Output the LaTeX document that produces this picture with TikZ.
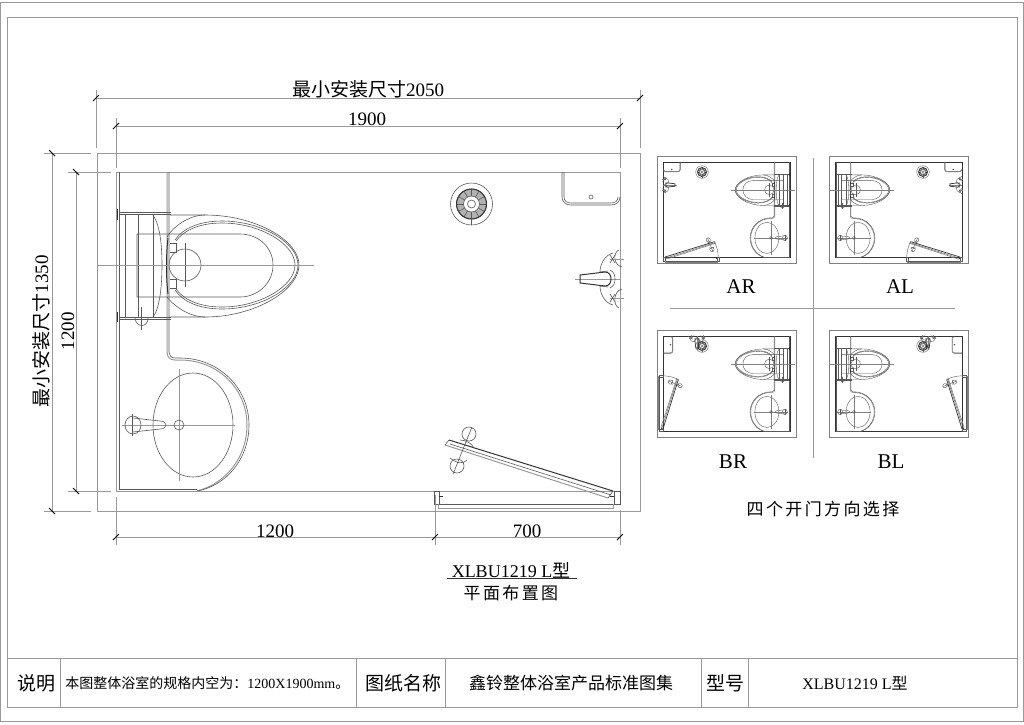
\documentclass[tikz,border=0pt]{standalone}
\usepackage{fontspec}
\setmainfont{Liberation Serif}
\newfontfamily\cjk{Noto Sans CJK SC}
\newfontfamily\cjkwide[LetterSpace=14]{Noto Sans CJK SC}

\tikzset{
    wall line/.style={line width=.5pt, draw=black!40},
    thin line/.style={line width=.3pt, draw=black!65},
    dark line/.style={line width=.5pt, draw=black!80},
    dim tick/.style={line width=.5pt, draw=black},
    dim text/.style={font=\fontsize{9.5}{11}\selectfont, inner sep=0pt},
    cell text/.style={font=\fontsize{9.5}{11}\cjk, inner sep=0pt},
    room text/.style={font=\fontsize{10.5}{13}\selectfont, inner sep=0pt}
}

\newcommand{\leftfix}{
    \draw[thin line] (119,172) -- (119,489) -- (197,489);
    \draw[wall line] (167,172) -- (167,352) .. controls (167,357) and (170,360) .. (175,360) -- (180,360) .. controls (218,360) and (247,389) .. (247,425) .. controls (247,458) and (225,484) .. (197,491);
    \draw[thin line] (169,172) -- (169,352) .. controls (169,355) and (171,358) .. (175,358) -- (180,358) .. controls (219,358) and (249,388) .. (249,425) .. controls (249,459) and (226,486) .. (197,491);

    \draw[thin line] (119,212) -- (171,212) (119,214) -- (171,214) (119,317) -- (171,317) (119,319) -- (171,319);
    \draw[thin line] (125,214) -- (125,317) (138,214) -- (138,317) (153,214) -- (153,317);
    \draw[dark line] (117,209) -- (117,220) (117,312) -- (117,322);
    \draw[thin line] (153,215) .. controls (160,225) and (162,245) .. (162,265) .. controls (162,285) and (160,308) .. (153,317);
    \draw[thin line] (135,318) .. controls (136,328) and (148,328) .. (148,318);
    \draw[thin line] (141,307) -- (141,330);

    \draw[thin line] (170,215) -- (205,215) .. controls (255,215) and (299,240) .. (299,265) .. controls (299,290) and (255,317) .. (205,317) -- (170,317);
    \draw[thin line] (167,237) .. controls (172,228) and (188,215) .. (205,215);
    \draw[thin line] (167,297) .. controls (172,304) and (188,317) .. (205,317);
    \draw[thin line] (175,240) .. controls (183,228) and (200,221) .. (222,221) .. controls (262,221) and (298,243) .. (298,265) .. controls (298,287) and (262,309) .. (222,309) .. controls (200,309) and (183,302) .. (175,290);
    \draw[thin line] (176,241) .. controls (184,230) and (200,223) .. (222,223) .. controls (260,223) and (295,244) .. (295,265) .. controls (295,286) and (260,307) .. (222,307) .. controls (200,307) and (184,300) .. (176,289);
    \draw[thin line] (137,234) -- (240,234) .. controls (258,234) and (273,247) .. (273,265) .. controls (273,283) and (258,297) .. (240,297) -- (137,297) -- cycle;
    \draw[dark line] (168,238) .. controls (166,255) and (166,277) .. (168,294);
    \draw[thin line] (170,243) -- (176,243) -- (176,252) -- (170,252) (170,279) -- (176,279) -- (176,288) -- (170,288);
    \draw[thin line] (185,265) circle (16);
    \draw[thin line] (185,243) -- (185,287);
    \draw[wall line] (98,265) -- (314,265);

    \draw[thin line] (193,425) ellipse [x radius=40, y radius=52];
    \draw[wall line] (179,369) -- (179,481);
    \draw[wall line] (122,425) -- (235,425);
    \draw[thin line] (179,425) circle (5);
    \draw[thin line] (133,425) ellipse [x radius=8, y radius=9];
    \draw[thin line] (132,414) -- (132,436);
    \draw[thin line] (133,418) -- (160,421) .. controls (168,421) and (168,429) .. (160,429) -- (133,432);
}

\newcommand{\doorfix}{
    \draw[thin line] (-186,0) rectangle (-181,13);
    \draw[thin line] (-6,0) rectangle (0,13);
    \draw[thin line] (-186,13) -- (0,13);
    \draw[wall line] (-182,13) -- (-182,17) -- (-7,17) -- (-7,13);
    \draw[dark line] (-181,5) -- (-177,5) (-6,5) -- (-10,5);
    \draw[dark line] (-171,-51) -- (-7,0);
    \draw[wall line] (-175,-46) -- (-12,7);
    \draw[thin line] (-171,-51) -- (-175,-46) (-7,0) -- (-12,7);
    \draw[thin line] (-170,-47) -- (-9,4);
    \draw[thin line] (-151,-57) circle (7);
    \draw[thin line] (-163,-25) circle (7);
    \draw[thin line] (-148,-64) -- (-167,-17);
    \draw[thin line] (-170,-33) .. controls (-162,-27) and (-157,-27) .. (-153,-31);
    \draw[thin line] (-160,-51) .. controls (-155,-51) and (-148,-48) .. (-146,-43);
}

\newcommand{\shelffix}{
    \draw[thin line] (-58,0) -- (-58,25) .. controls (-58,30) and (-54,33) .. (-49,33) -- (-9,33) .. controls (-4,33) and (0,30) .. (0,25);
    \draw[thin line] (-56,0) -- (-56,25) .. controls (-56,29) and (-53,31) .. (-49,31) -- (-9,31) .. controls (-5,31) and (-2,29) .. (-2,25);
    \draw[thin line] (-29,25) circle (2);
}

\newcommand{\tapfix}{
    \draw[wall line] (-45,0) -- (0,0);
    \draw[dark line] (-40,-4) -- (-15,-7) .. controls (-11,-7) and (-9,-4) .. (-9,0) .. controls (-9,4) and (-11,7) .. (-15,7) -- (-40,4) -- cycle;
    \draw[thin line] (-10,-9) .. controls (-6,-7) and (-5,-4) .. (-5,0) .. controls (-5,4) and (-6,7) .. (-10,9);
    \draw[thin line] (-7,-26) .. controls (-15,-24) and (-20,-15) .. (-20,-7) -- (-12,-8);
    \draw[thin line] (-7,26) .. controls (-15,24) and (-20,15) .. (-20,7) -- (-12,8);
    \draw[thin line] (-1,-29) .. controls (-7,-27) and (-7,-14) .. (2,-12);
    \draw[thin line] (-1,29) .. controls (-7,27) and (-7,12) .. (2,10);
    \draw[wall line] (-10,-20) -- (4,-20) (-10,19) -- (4,19);
    \draw[thin line] (-10,-24) -- (-5,-16) (-10,-16) -- (-5,-24) (-10,15) -- (-5,23) (-10,23) -- (-5,15);
}

\newcommand{\drainfix}{
    \draw[thin line] (0,0) circle (21);
    \draw[thin line, fill=black!30] (0,0) circle (15);
    \foreach \ang in {0,30,...,330}
        \draw[thin line] (\ang:8) -- (\ang:15);
    \draw[dark line] (0,0) circle (15);
    \draw[thin line, fill=white] (0,0) circle (8);
    \draw[thin line] (0,0) circle (4);
    \draw[thin line] (0,8) -- (0,21);
}

\newcommand{\smallbase}{
    \draw[wall line] (-6,-6) rectangle (133,101);
    \draw[dark line] (0,0) rectangle (127,95);
    \begin{scope}[scale=.3, shift={(-116,-172)}]
        \leftfix
    \end{scope}
    \begin{scope}[shift={(88,10)}, scale=.3]
        \drainfix
    \end{scope}
}

\newcommand{\roomA}{
    \smallbase
    \begin{scope}[shift={(127,0)}, scale=.3]
        \shelffix
    \end{scope}
    \begin{scope}[shift={(127,23)}, scale=.3]
        \tapfix
    \end{scope}
    \begin{scope}[shift={(127,95)}, scale=.3]
        \doorfix
        \draw[thin line] (-171,-51) .. controls (-179,-40) and (-184,-15) .. (-184,0);
    \end{scope}
}

\newcommand{\roomB}{
    \smallbase
    \begin{scope}[shift={(127,0)}, cm={0,1,1,0,(0,0)}, scale=.3]
        \shelffix
    \end{scope}
    \begin{scope}[shift={(93,0)}, rotate=90, scale=.3]
        \tapfix
    \end{scope}
    \begin{scope}[shift={(127,95)}, cm={0,-1,-1,0,(0,0)}, scale=.3]
        \doorfix
        \draw[thin line] (-171,-51) .. controls (-179,-40) and (-184,-15) .. (-184,0);
    \end{scope}
}

\begin{document}
\begin{tikzpicture}[x=.5pt, y=-.5pt]

    \useasboundingbox (0,0) rectangle (1024,724);

    \draw[wall line] (.5,2) rectangle (1023,721);
    \draw[wall line] (7,17) rectangle (1017,707);
    \draw[wall line] (7,658) -- (1017,658);
    \foreach \xpos in {60,356,445,701,748}
        \draw[wall line] (\xpos,658) -- (\xpos,707);

    \node[cell text] at (37, 683) (notehead) {说明};
    \node[inner sep=0pt, anchor=west, font=\fontsize{7}{9}\selectfont] at (65, 683) (note) {{\cjk 本图整体浴室的规格内空为：}1200X1900mm{\cjk 。}};
    \node[cell text] at (403, 683) (namehead) {图纸名称};
    \node[inner sep=0pt, font=\fontsize{8.5}{10}\cjk] at (571, 683) (name) {鑫铃整体浴室产品标准图集};
    \node[cell text] at (725, 683) (typehead) {型号};
    \node[inner sep=0pt, font=\fontsize{8}{10}\selectfont] at (855, 683) (type) {XLBU1219 L{\cjk 型}};

    \draw[wall line] (97,153) rectangle (640,511);
    \draw[wall line] (116,172) -- (620,172) -- (620,491) -- (116,491) -- cycle;
    \leftfix
    \begin{scope}[shift={(471.5,204)}]
        \drainfix
    \end{scope}
    \begin{scope}[shift={(620,172)}]
        \shelffix
    \end{scope}
    \begin{scope}[shift={(620,279)}]
        \tapfix
    \end{scope}
    \begin{scope}[shift={(620,491)}]
        \doorfix
    \end{scope}

    \draw[wall line] (96,90) -- (96,148) (640,90) -- (640,148);
    \draw[wall line] (116,118) -- (116,168) (620,118) -- (620,168);
    \draw[wall line] (96,98) -- (640,98);
    \draw[wall line] (116,126) -- (620,126);
    \foreach \xpos/\ypos in {96/98,640/98,116/126,620/126}
        \draw[dim tick] (\xpos-3,\ypos+3) -- (\xpos+3,\ypos-3);

    \draw[wall line] (44,153) -- (91,153) (44,511) -- (91,511);
    \draw[wall line] (68,172) -- (111,172) (68,491) -- (111,491);
    \draw[wall line] (52,153) -- (52,511);
    \draw[wall line] (76,172) -- (76,491);
    \foreach \xpos/\ypos in {52/153,52/511,76/172,76/491}
        \draw[dim tick] (\xpos-3,\ypos-3) -- (\xpos+3,\ypos+3);

    \draw[wall line] (116,497) -- (116,545) (435,495) -- (435,545) (620,510) -- (620,545);
    \draw[wall line] (116,537) -- (620,537);
    \foreach \xpos in {116,435,620}
        \draw[dim tick] (\xpos-3,540) -- (\xpos+3,534);

    \node[dim text] at (368, 89) (widthmin) {{\cjk 最小安装尺寸}2050};
    \node[dim text] at (367, 119) (width) {1900};
    \node[dim text, rotate=90] at (41, 331) (heightmin) {{\cjk 最小安装尺寸}1350};
    \node[dim text, rotate=90] at (68, 331) (height) {1200};
    \node[dim text] at (275, 531) (baselen) {1200};
    \node[dim text] at (527, 531) (doorlen) {700};

    \node[inner sep=0pt, font=\fontsize{9}{10}\selectfont] at (511, 570) (model) {XLBU1219 L{\cjk 型}};
    \draw[dark line] (447,578) -- (577,578);
    \node[inner sep=0pt, font=\fontsize{8.5}{10}\cjkwide] at (511, 593) (plantitle) {平面布置图};

    \begin{scope}[thin line/.style={line width=.2pt, draw=black!65}, wall line/.style={line width=.3pt, draw=black!50}, dark line/.style={line width=.35pt, draw=black!80}]
        \begin{scope}[shift={(790,162)}, xscale=-1]
            \roomA
        \end{scope}
        \begin{scope}[shift={(835,162)}]
            \roomA
        \end{scope}
        \begin{scope}[shift={(790,336)}, xscale=-1]
            \roomB
        \end{scope}
        \begin{scope}[shift={(835,336)}]
            \roomB
        \end{scope}
    \end{scope}

    \draw[wall line] (670,308) -- (955,308);
    \draw[wall line] (813,158) -- (813,458);

    \node[room text] at (741, 287) (labelar) {AR};
    \node[room text] at (900, 287) (labelal) {AL};
    \node[room text] at (733, 462) (labelbr) {BR};
    \node[room text] at (891, 462) (labelbl) {BL};
    \node[inner sep=0pt, font=\fontsize{8.5}{10}\cjkwide] at (823, 509) (choice) {四个开门方向选择};

\end{tikzpicture}
\end{document}
